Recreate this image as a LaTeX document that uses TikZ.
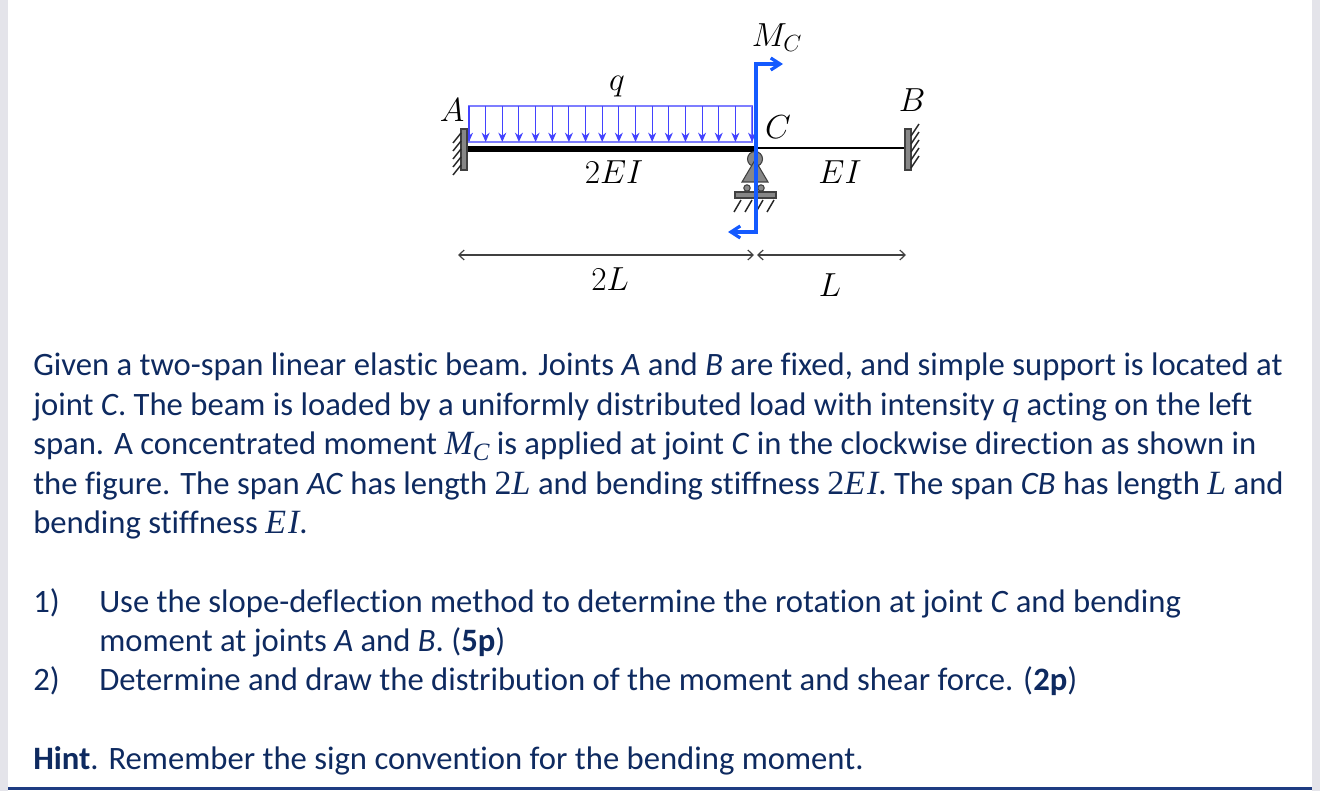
\documentclass[tikz,border=0pt]{standalone}
\usepackage{fix-cm}
\usepackage{fontspec}
\newfontfamily\bodyfont[Ligatures=NoCommon]{Carlito}
\newfontfamily\cambriafont[LetterSpace=6,Scale=1.04]{Liberation Serif}
\usetikzlibrary{arrows.meta}
\definecolor{navy}{RGB}{14,42,96}
\definecolor{rule}{RGB}{30,60,130}
\definecolor{loadblue}{RGB}{20,20,255}
\definecolor{momentblue}{RGB}{20,90,255}
\definecolor{supportgray}{RGB}{135,135,135}
\definecolor{edgegray}{RGB}{228,228,234}
\newcommand{\mv}[1]{{\cambriafont\itshape #1}}
\newcommand{\mn}[1]{{\cambriafont #1}}
\tikzset{
  txt/.style={anchor=base west,inner sep=0pt,text=navy,font=\bodyfont\fontsize{24.5}{28}\selectfont},
  lab/.style={inner sep=0pt,font=\fontsize{25}{30}\selectfont},
  hatch/.style={line width=1.1pt,black!85},
  support/.style={draw=black!75,fill=supportgray,line width=0.8pt},
  loadarrow/.style={-{Stealth[length=7pt,width=6pt]},draw=loadblue!80,line width=0.8pt},
  moment/.style={{Straight Barb[length=7pt,width=9pt]}-{Straight Barb[length=7pt,width=9pt]},draw=momentblue,line width=2.4pt},
  dimline/.style={{Straight Barb[length=4pt,width=7.5pt]}-{Straight Barb[length=4pt,width=7.5pt]},draw=black!75,line width=0.9pt}
}
\begin{document}
\begin{tikzpicture}[x=0.75pt,y=-0.75pt]
    \useasboundingbox (0,0) rectangle (1320,791);
    % page edges
    \fill [edgegray] (0,0) rectangle (8,791);
    \fill [edgegray] (1312,0) rectangle (1320,791);
    \fill [rule] (8,787) rectangle (1312,790);

    \coordinate (A) at (467,149);
    \coordinate (C) at (755,149);
    \coordinate (B) at (905,148);

    % uniform load
    \draw [loadblue!55,line width=1pt] (469,142) rectangle (752,106);
    \foreach \n in {0,...,17}{%
        \draw [loadarrow] (469+16.65*\n,106) -- (469+16.65*\n,142);}

    % beam
    \draw [line width=5pt] (A) -- (C);
    \draw [line width=1.9pt] (C |- B) -- (B);

    % wall at A
    \draw [support] (461,129) rectangle (467,170);
    \foreach \n in {0,...,4}{%
        \draw [hatch] (461,133+8*\n) -- (453,143+8*\n);}

    % wall at B
    \draw [support] (905,129) rectangle (911,170);
    \foreach \n in {0,...,4}{%
        \draw [hatch] (911,136+8*\n) -- (919,124+8*\n);}

    % roller support at C
    \draw [support] (755,159) circle (7.5);
    \draw [support] (755,160) -- (768,182) -- (742,182) -- cycle;
    \draw [support] (747,188) circle (3.2);
    \draw [support] (761,188) circle (3.2);
    \draw [support] (735,192) rectangle (776,198);
    \foreach \n in {0,...,3}{%
        \draw [hatch] (741+11*\n,200) -- (734+11*\n,212);}

    % moment at C
    \coordinate (mend) at (783,64);
    \coordinate (mtop) at (756,64);
    \coordinate (mbot) at (756,232);
    \coordinate (mstart) at (728,232);
    \draw [moment] (mstart) -- (mbot) -- (mtop) -- (mend);

    % dimensions
    \coordinate (d0) at (458,255);
    \coordinate (d1) at (754,255);
    \coordinate (d1b) at (757,255);
    \coordinate (d2) at (906,255);
    \draw [dimline] (d0) -- (d1);
    \draw [dimline] (d1b) -- (d2);

    % labels
    \node [lab] (lblq) at (617,87) {$q$};
    \node [lab] (lblA) at (452,110) {$A$};
    \node [lab] (lbl2EI) at (614,172) {$2EI$};
    \node [lab] (lblC) at (778,127) {$C$};
    \node [lab] (lblEI) at (840,172) {$EI$};
    \node [lab] (lblB) at (912,100) {$B$};
    \node [lab] (lblM) at (777,38) {$M_C$};
    \node [lab] (lbl2L) at (610,279) {$2L$};
    \node [lab] (lblL) at (830,285) {$L$};

    % text
    \node [txt] (l1) at (33,376) {Given a two-span linear elastic beam. Joints \textit{A} and \textit{B} are fixed, and simple support is located at};
    \node [txt] (l2) at (33,415) {joint \textit{C}. The beam is loaded by a uniformly distributed load with intensity \mv{q} acting on the left};
    \node [txt] (l3) at (33,454) {span. A concentrated moment \mv{M}\raisebox{-0.2em}{\fontsize{18}{20}\selectfont\mv{C}} is applied at joint \textit{C} in the clockwise direction as shown in};
    \node [txt] (l4) at (33,494) {the figure. The span \textit{AC} has length \mn{2}\mv{L} and bending stiffness \mn{2}\mv{EI}. The span \textit{CB} has length \mv{L} and};
    \node [txt] (l5) at (33,533) {bending stiffness \mv{EI}.};
    \node [txt] (n1) at (33,612) {1)};
    \node [txt] (q1) at (99,612) {Use the slope-deflection method to determine the rotation at joint \textit{C} and bending};
    \node [txt] (q1b) at (99,651) {moment at joints \textit{A} and \textit{B}. (\textbf{5p})};
    \node [txt] (n2) at (33,690) {2)};
    \node [txt] (q2) at (99,690) {Determine and draw the distribution of the moment and shear force. (\textbf{2p})};
    \node [txt] (hint) at (33,769) {\textbf{Hint}. Remember the sign convention for the bending moment.};
\end{tikzpicture}
\end{document}
